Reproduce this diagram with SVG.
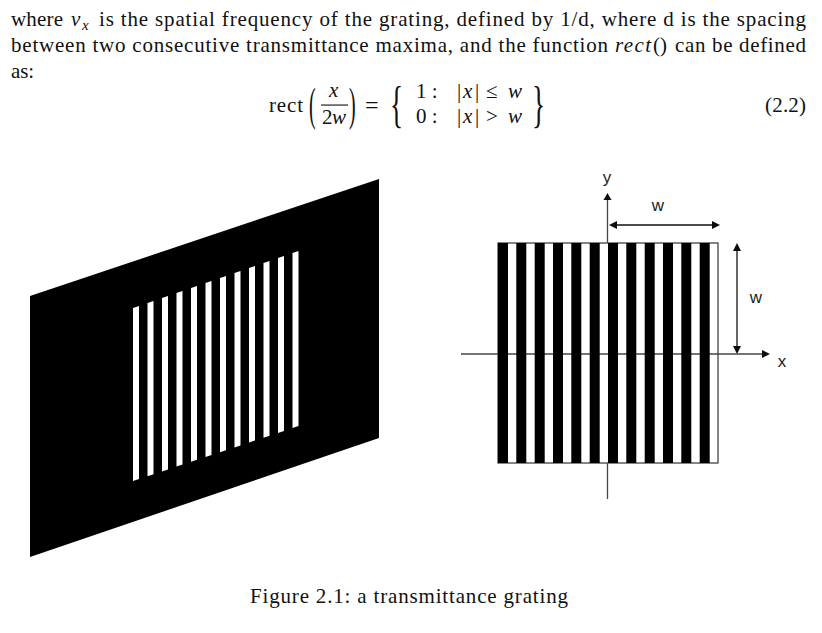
<svg xmlns="http://www.w3.org/2000/svg" width="822" height="633" viewBox="0 0 822 633">
<style>
.t{font-family:"Liberation Serif","Times New Roman",serif;font-size:21px;fill:#111}
.i{font-style:italic}
.s{font-family:"Liberation Sans",Arial,sans-serif;font-size:17px;fill:#222}
.l{stroke:#444;stroke-width:1.3;fill:none}
.a{stroke:#111;stroke-width:1.3;fill:none}
.h{fill:#111}
</style>
<defs><filter id="soft" x="-5%" y="-5%" width="110%" height="110%"><feGaussianBlur stdDeviation="0.45"/></filter></defs>
<rect width="822" height="633" fill="#fff"/>
<g id="paragraph">
<text class="t" x="11" y="26" textLength="52" lengthAdjust="spacing">where</text>
<text class="t i" x="71" y="26">ν</text>
<text class="t i" x="82" y="30" style="font-size:15px">x</text>
<text class="t" x="99" y="26" textLength="707" lengthAdjust="spacing">is the spatial frequency of the grating, defined by 1/d, where d is the spacing</text>
<text class="t" x="11" y="52" textLength="597" lengthAdjust="spacing">between two consecutive transmittance maxima, and the function</text>
<text class="t i" x="615" y="52" textLength="36" lengthAdjust="spacing">rect</text>
<text class="t" x="653" y="52" textLength="14" lengthAdjust="spacing">()</text>
<text class="t" x="675" y="52" textLength="131" lengthAdjust="spacing">can be defined</text>
<text class="t" x="11" y="78" textLength="23" lengthAdjust="spacing">as:</text>
</g>
<g id="equation">
<text class="t" x="269" y="112" textLength="34" lengthAdjust="spacing">rect</text>
<text class="t" transform="translate(309,120) scale(0.95,2.2)">(</text>
<text class="t i" x="329" y="97">x</text>
<rect x="321" y="104.500" width="27" height="1.100" fill="#111"/>
<text class="t" x="322" y="124">2</text>
<text class="t i" x="332" y="124">w</text>
<text class="t" transform="translate(349,120) scale(0.95,2.2)">)</text>
<text class="t" x="365" y="113" style="font-size:24px">=</text>
<text class="t" transform="translate(390,121) scale(1.3,2.4)">{</text>
<text class="t" x="416" y="98">1 :</text>
<text class="t" x="416" y="123">0 :</text>
<text class="t" x="457" y="98">|</text>
<text class="t i" x="463" y="98">x</text>
<text class="t" x="475" y="98">|</text>
<text class="t" x="486" y="98">≤</text>
<text class="t i" x="508" y="98">w</text>
<text class="t" x="457" y="123">|</text>
<text class="t i" x="463" y="123">x</text>
<text class="t" x="475" y="123">|</text>
<text class="t" x="486" y="123">&gt;</text>
<text class="t i" x="508" y="123">w</text>
<text class="t" transform="translate(532,121) scale(1.3,2.4)">}</text>
<text class="t" x="765" y="112" textLength="41" lengthAdjust="spacing">(2.2)</text>
</g>
<g id="angled-grating" filter="url(#soft)">
<polygon points="30,296 379,179 379,438 30,557" fill="#000"/>
<g fill="#fff">
<polygon points="133,308 139,306 139,479 133,481"/>
<polygon points="147.500,303 153.500,301 153.500,474.200 147.500,476.200"/>
<polygon points="162,298 168,296 168,469.400 162,471.400"/>
<polygon points="176.500,293 182.500,291 182.500,464.600 176.500,466.600"/>
<polygon points="191,288 197,286 197,459.800 191,461.800"/>
<polygon points="205.500,283 211.500,281 211.500,455 205.500,457"/>
<polygon points="220,278 226,276 226,450.200 220,452.200"/>
<polygon points="234.500,273 240.500,271 240.500,445.400 234.500,447.400"/>
<polygon points="249,268 255,266 255,440.600 249,442.600"/>
<polygon points="263.500,263 269.500,261 269.500,435.800 263.500,437.800"/>
<polygon points="278,258 284,256 284,431 278,433"/>
<polygon points="292.500,253 298.500,251 298.500,426 292.500,428"/>
</g>
</g>
<g filter="url(#soft)">
<rect x="498" y="243" width="220" height="220" fill="#fff" stroke="#444" stroke-width="1.3"/>
<g id="connectors">
<line class="l" x1="607.500" y1="196" x2="607.500" y2="243"/>
<line class="l" x1="607.500" y1="463" x2="607.500" y2="499"/>
<line class="l" x1="461" y1="354" x2="764" y2="354"/>
<polygon class="h" points="607.500,193 603.500,200 611.500,200"/>
<polygon class="h" points="770,354 762,350 762,358"/>
<line class="a" x1="612" y1="225" x2="716" y2="225"/>
<polygon class="h" points="609,225 617,221 617,229"/>
<polygon class="h" points="720,225 712,221 712,229"/>
<line class="a" x1="737" y1="246" x2="737" y2="350"/>
<polygon class="h" points="737,243 733,251 741,251"/>
<polygon class="h" points="737,354 733,346 741,346"/>
</g>
<g id="square-grating" fill="#000">
<rect x="498" y="243" width="10" height="220"/>
<rect x="516.300" y="243" width="10" height="220"/>
<rect x="534.700" y="243" width="10" height="220"/>
<rect x="553" y="243" width="10" height="220"/>
<rect x="571.300" y="243" width="10" height="220"/>
<rect x="589.700" y="243" width="10" height="220"/>
<rect x="608" y="243" width="10" height="220"/>
<rect x="626.300" y="243" width="10" height="220"/>
<rect x="644.700" y="243" width="10" height="220"/>
<rect x="663" y="243" width="10" height="220"/>
<rect x="681.300" y="243" width="10" height="220"/>
<rect x="699.700" y="243" width="10" height="220"/>
</g>
</g>
<g id="axis-labels">
<text class="s" x="607" y="183" text-anchor="middle">y</text>
<text class="s" x="658" y="211" text-anchor="middle">w</text>
<text class="s" x="756" y="303" text-anchor="middle">w</text>
<text class="s" x="782" y="367" text-anchor="middle">x</text>
</g>
<text id="caption" class="t" x="250" y="603" textLength="318" lengthAdjust="spacing">Figure 2.1: a transmittance grating</text>
</svg>
